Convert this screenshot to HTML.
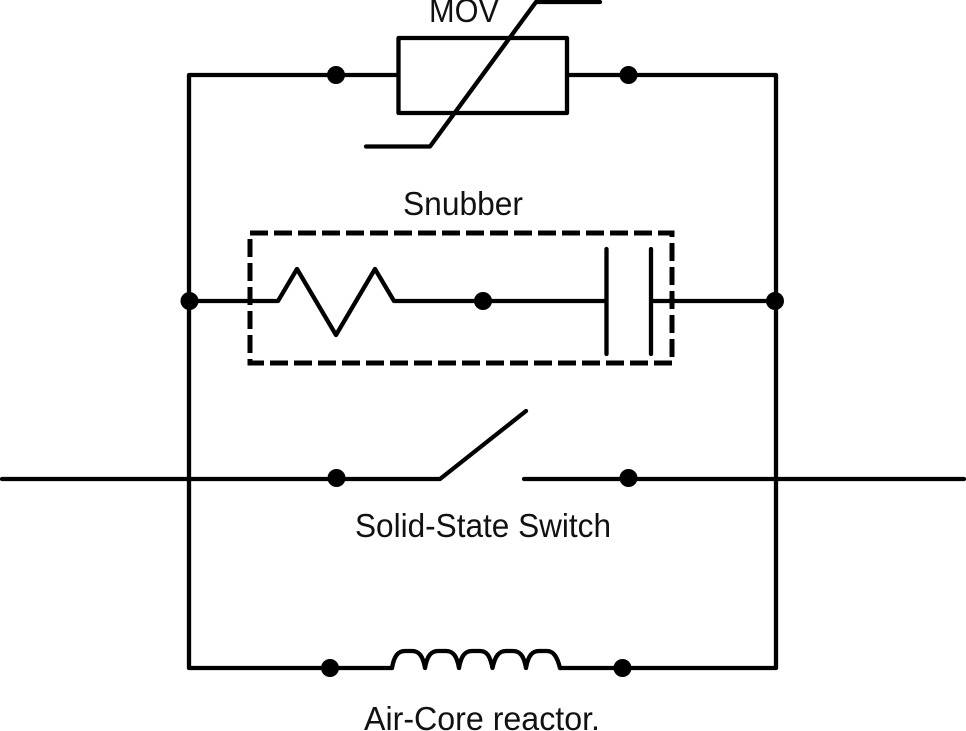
<!DOCTYPE html>
<html><head><meta charset="utf-8"><style>
html,body{margin:0;padding:0;background:#fff;width:966px;height:731px;overflow:hidden}
svg{display:block}
text{font-family:"Liberation Sans",sans-serif;font-size:33px;fill:#111}
</style></head><body>
<svg width="966" height="731" viewBox="0 0 966 731" xmlns="http://www.w3.org/2000/svg">
<g fill="none" stroke="#000" stroke-width="4.300" stroke-linejoin="round" stroke-linecap="round">
<path d="M398 75H189V668H392M567 75H776V668H560"/>
<rect x="398.500" y="38" width="168.500" height="75"/>
<path d="M366 146.500H430L536 2H600"/>
<path d="M189 301H278L297 269L336 335L375 269L394 301H606"/>
<path d="M606.500 249V354M651 249V354M651 301H776"/>
<path d="M2 479H440L526 411M524 479H964"/>
<path d="M392 668C394 656 398 651 405 651H412C419 651 423 656 425 668C427 656 431 651 438 651H446C453 651 457 656 459 668C461 656 465 651 472 651H480C487 651 490 656 492.500 668C495 656 499 651 506 651H513C520 651 524 656 526 668C528 656 532 651 539 651H547C553 651 557 656 560 668"/>
<rect x="250" y="233" width="422" height="130" stroke-width="5" stroke-dasharray="18 6" stroke-linecap="butt" stroke-linejoin="miter"/>
</g>
<g fill="#000">
<circle cx="336" cy="75" r="9"/><circle cx="628.500" cy="75" r="9"/>
<circle cx="189.500" cy="301" r="9"/><circle cx="483" cy="301" r="9"/><circle cx="775" cy="301" r="9"/>
<circle cx="336.500" cy="478" r="9"/><circle cx="628.500" cy="478" r="9"/>
<circle cx="330" cy="668" r="9"/><circle cx="622.500" cy="668" r="9"/>
</g>
<text x="429" y="22" textLength="70" lengthAdjust="spacingAndGlyphs">MOV</text>
<text x="403" y="215" textLength="120" lengthAdjust="spacingAndGlyphs">Snubber</text>
<text x="355" y="537" textLength="256" lengthAdjust="spacingAndGlyphs">Solid-State Switch</text>
<text x="364" y="730" textLength="236" lengthAdjust="spacingAndGlyphs">Air-Core reactor.</text>
</svg>
</body></html>
